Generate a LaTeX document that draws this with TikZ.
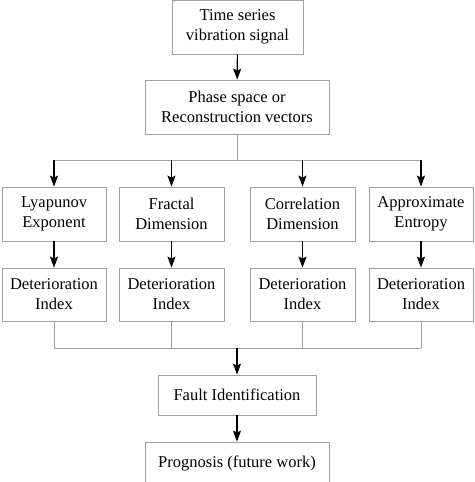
\documentclass[tikz,border=0pt]{standalone}
\usepackage{fontspec}
\setmainfont{Liberation Serif}
\usepackage{tikz}
\usetikzlibrary{arrows.meta, positioning}

\begin{document}
\begin{tikzpicture}[
    x=1pt, y=-1pt,
    box/.style={draw=gray!75, line width=0.8pt, align=center, inner sep=0pt,
                font=\fontsize{16.5}{20}\selectfont},
    arrow/.style={-{Stealth[length=11pt, width=8pt, inset=2pt]}, line width=1.1pt},
    bus/.style={draw=gray!75, line width=0.8pt}
]
  \useasboundingbox (0,0) rectangle (474,482);

  % Nodes
  \node[box, minimum width=131pt, minimum height=54pt] (signal) at (237.5,27)
      {Time series\\vibration signal};
  \node[box, minimum width=184pt, minimum height=54pt] (phase) at (237,107)
      {Phase space or\\Reconstruction vectors};

  \node[box, minimum width=104pt, minimum height=54pt] (lyap) at (54,214)
      {Lyapunov\\Exponent};
  \node[box, minimum width=105pt, minimum height=54pt] (fractal) at (171.5,214)
      {Fractal\\Dimension};
  \node[box, minimum width=105pt, minimum height=54pt] (corr) at (302.5,214)
      {Correlation\\Dimension};
  \node[box, minimum width=104pt, minimum height=54pt] (apen) at (421,214)
      {Approximate\\Entropy};

  \node[box, minimum width=104pt, minimum height=53pt] (di1) at (54,294.5)
      {Deterioration\\Index};
  \node[box, minimum width=105pt, minimum height=53pt] (di2) at (171.5,294.5)
      {Deterioration\\Index};
  \node[box, minimum width=105pt, minimum height=53pt] (di3) at (302.5,294.5)
      {Deterioration\\Index};
  \node[box, minimum width=104pt, minimum height=53pt] (di4) at (421,294.5)
      {Deterioration\\Index};

  \node[box, minimum width=158pt, minimum height=40pt] (fault) at (237,395)
      {Fault Identification};
  \node[box, minimum width=184pt, minimum height=42pt] (prog) at (237,463)
      {Prognosis (future work)};

  % Bus coordinates
  \coordinate (split) at (237,160);
  \coordinate (join) at (237,348);

  % Arrows
  \draw[arrow] (signal) -- (phase);
  \draw[bus] (phase.south) -- (split);
  \draw[bus] (lyap.north |- split) -- (apen.north |- split);
  \foreach \n in {lyap, fractal, corr, apen}
    \draw[arrow] (\n.north |- split) -- (\n.north);
  \foreach \a/\b in {lyap/di1, fractal/di2, corr/di3, apen/di4}
    \draw[arrow] (\a) -- (\b);
  \foreach \n in {di1, di2, di3, di4}
    \draw[bus] (\n.south) -- (\n.south |- join);
  \draw[bus] (di1.south |- join) -- (di4.south |- join);
  \draw[arrow] (join) -- (fault);
  \draw[arrow] (fault) -- (prog);
\end{tikzpicture}
\end{document}
